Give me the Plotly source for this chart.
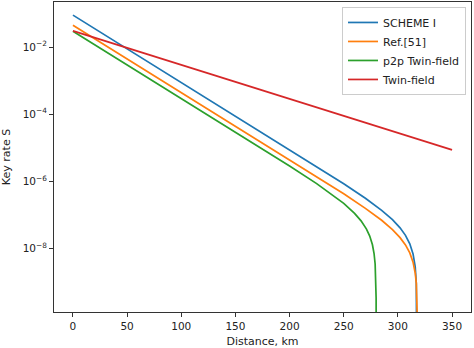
import plotly.graph_objects as go

# Distance grid (km) and key rates for each protocol
dist_scheme = [0, 50, 100, 150, 200, 225, 250, 270, 285, 295, 302, 307, 311, 314, 316, 317, 317.4, 317.5]
rate_scheme = [8.91e-2, 8.91e-3, 8.91e-4, 8.91e-5, 8.87e-6, 2.78e-6, 8.51e-7, 3.15e-7, 1.38e-7,
               7.24e-8, 4.15e-8, 2.48e-8, 1.39e-8, 6.97e-9, 2.85e-9, 9.27e-10, 1.84e-10, 1e-12]

dist_ref51 = [0, 50, 100, 150, 200, 225, 250, 270, 285, 295, 302, 307, 311, 314, 316, 317, 317.6, 317.9, 318]
rate_ref51 = [4.47e-2, 4.47e-3, 4.47e-4, 4.47e-5, 4.45e-6, 1.39e-6, 4.27e-7, 1.58e-7, 6.96e-8,
              3.67e-8, 2.12e-8, 1.29e-8, 7.42e-9, 3.94e-9, 1.88e-9, 9.19e-10, 3.62e-10, 8.9e-11, 1e-12]

dist_p2p = [0, 50, 100, 150, 200, 225, 240, 250, 260, 266, 271, 274, 276.5, 278, 279, 279.6, 279.9, 280]
rate_p2p = [2.95e-2, 2.95e-3, 2.95e-4, 2.94e-5, 2.88e-6, 8.59e-7, 3.94e-7, 2.21e-7, 1.12e-7,
            6.71e-8, 3.81e-8, 2.36e-8, 1.30e-8, 7.15e-9, 3.49e-9, 1.38e-9, 3.43e-10, 1e-12]

dist_tf = [0, 50, 100, 150, 200, 250, 300, 350]
rate_tf = [3.02e-2, 9.42e-3, 2.94e-3, 9.18e-4, 2.86e-4, 8.94e-5, 2.79e-5, 8.71e-6]

x_ticks = [0, 50, 100, 150, 200, 250, 300, 350]
y_ticks = [1e-2, 1e-4, 1e-6, 1e-8]
y_tick_text = ["10<sup>−2</sup>", "10<sup>−4</sup>", "10<sup>−6</sup>", "10<sup>−8</sup>"]

series = [
    ("SCHEME I", dist_scheme, rate_scheme, "#1f77b4"),
    ("Ref.[51]", dist_ref51, rate_ref51, "#ff7f0e"),
    ("p2p Twin-field", dist_p2p, rate_p2p, "#2ca02c"),
    ("Twin-field", dist_tf, rate_tf, "#d62728"),
]

fig = go.Figure()
for name, xs, ys, color in series:
    fig.add_trace(go.Scatter(x=xs, y=ys, mode="lines", name=name,
                             line=dict(color=color, width=1.7)))

font = dict(family="DejaVu Sans", size=11, color="#222")
tick_font = dict(family="DejaVu Sans", size=10.5, color="#222")
axis_common = dict(showgrid=False, zeroline=False, showline=True, linecolor="#333",
                   linewidth=1, mirror=True, ticks="outside", ticklen=4,
                   tickcolor="#333", tickfont=tick_font)

fig.update_layout(
    width=474, height=348,
    margin=dict(l=54, r=3, t=2, b=36),
    paper_bgcolor="white", plot_bgcolor="white",
    font=font,
    showlegend=True,
    legend=dict(x=0.988, y=0.984, xanchor="right", yanchor="top",
                bgcolor="white", bordercolor="#cccccc", borderwidth=1,
                font=dict(family="DejaVu Sans", size=11, color="#222"),
                itemwidth=30, tracegroupgap=0),
    xaxis=dict(range=[-17.5, 367.5], tickvals=x_ticks,
               title=dict(text="Distance, km", font=font, standoff=7),
               automargin=False, **axis_common),
    yaxis=dict(type="log", range=[-9.887, -0.66], tickvals=y_ticks, ticktext=y_tick_text,
               title=dict(text="Key rate S", font=font, standoff=9),
               automargin=False, **axis_common),
)

fig.write_html("out.html")
